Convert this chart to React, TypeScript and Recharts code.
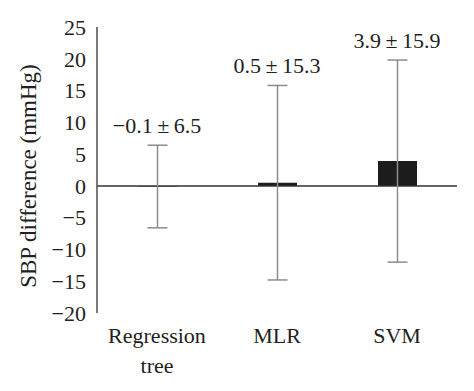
import React from 'react';
import {
  ComposedChart,
  Bar,
  Line,
  XAxis,
  YAxis,
  ErrorBar,
  ReferenceLine,
  LabelList,
  Label,
} from 'recharts';

const categories = ['Regression tree', 'MLR', 'SVM'];
const means = [-0.1, 0.5, 3.9];
const sds = [6.5, 15.3, 15.9];
const yTicks = [-20, -15, -10, -5, 0, 5, 10, 15, 20, 25];

const FONT = '"Liberation Serif", "DejaVu Serif", serif';
const TEXT = '#231f20';

const minus = (s: string) => s.replace('-', '\u2212');

const data = categories.map((name, i) => ({
  name,
  mean: means[i],
  sd: sds[i],
  top: means[i] + sds[i],
  label: `${minus(means[i].toFixed(1))}\u2009±\u2009${sds[i].toFixed(1)}`,
}));

const CategoryTick = (props: any) => {
  const { x, y, payload } = props;
  const words = String(payload.value).split(' ');
  return (
    <text x={x} y={y} textAnchor="middle" fill={TEXT} fontFamily={FONT} fontSize={22}>
      {words.map((w, i) => (
        <tspan key={i} x={x} dy={30}>
          {w}
        </tspan>
      ))}
    </text>
  );
};

const TopLabel = (props: any) => {
  const { x, y, value } = props;
  return (
    <text x={x} y={y - 12} textAnchor="middle" fill={TEXT} fontFamily={FONT} fontSize={22}>
      {value}
    </text>
  );
};

export default function App() {
  return (
    <ComposedChart
      width={466}
      height={383}
      data={data}
      margin={{ top: 19, right: 17, left: 29, bottom: 18 }}
    >
      <XAxis
        dataKey="name"
        axisLine={false}
        tickLine={false}
        tickSize={0}
        tickMargin={0}
        height={60}
        interval={0}
        tick={<CategoryTick />}
      />
      <YAxis
        domain={[-20, 25]}
        ticks={yTicks}
        interval={0}
        width={60}
        tickLine={false}
        tickSize={0}
        tickMargin={11}
        axisLine={{ stroke: '#4d4d4d', strokeWidth: 1.5 }}
        tickFormatter={(v: number) => minus(String(v))}
        tick={{ fill: TEXT, fontFamily: FONT, fontSize: 22 }}
      >
        <Label
          content={() => (
            <text
              x={20}
              y={168}
              transform="rotate(-90 20 168)"
              textAnchor="middle"
              dominantBaseline="central"
              fill={TEXT}
              fontFamily={FONT}
              fontSize={23}
            >
              SBP difference (mmHg)
            </text>
          )}
        />
      </YAxis>
      <ReferenceLine y={0} stroke="#333333" strokeWidth={1.5} />
      <Bar dataKey="mean" barSize={39} fill="#1c1c1c" isAnimationActive={false}>
        <ErrorBar dataKey="sd" width={10} stroke="#8c8c8c" strokeWidth={1.5} direction="y" />
      </Bar>
      <Line
        dataKey="top"
        stroke="none"
        dot={false}
        activeDot={false}
        legendType="none"
        isAnimationActive={false}
      >
        <LabelList dataKey="label" content={<TopLabel />} />
      </Line>
    </ComposedChart>
  );
}
